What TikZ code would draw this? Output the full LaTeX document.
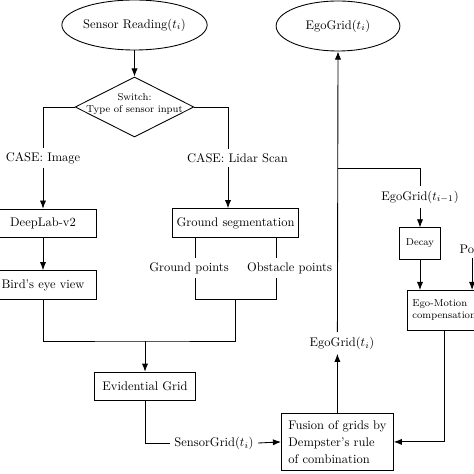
\documentclass[tikz,border=0pt]{standalone}
\usetikzlibrary{calc,shapes.geometric,arrows.meta}

\begin{document}
\begin{tikzpicture}[x=0.8pt, y=-0.8pt, line width=0.7pt, >={Latex[length=6.5pt, width=5pt]},
		box/.style={draw, rectangle, minimum height=23pt, inner sep=3.3pt},
		oval/.style={draw, ellipse, minimum width=99pt, minimum height=40pt, inner sep=0pt},
		lbl/.style={fill=white, inner sep=3.3pt}]
			%%%%% START %%%%%
			\useasboundingbox (0, 0) rectangle (474, 474);
			\clip (0, 0) rectangle (474, 474);
			
			\node[oval] (reading) at (134.5, 25) {Sensor Reading($t_i$)};
			\node[oval] (egogrid) at (338, 26) {EgoGrid($t_i$)};
			
			\node[draw, diamond, minimum width=95pt, minimum height=48pt, inner sep=0pt] (switch) at (134.5, 107) {};
			\node[font=\footnotesize, align=center, inner sep=0pt] (switchtxt) at (134.5, 104) {Switch:\\Type of sensor input};
			\draw[->] (reading) -- (switch);
			
			\node (caseimg) at (43, 158) {CASE: Image};
			\node (caselidar) at (237.5, 158) {CASE: Lidar Scan};
			\coordinate (lidarx) at (228, 158);
			\draw (switch.west) -| (caseimg.north);
			\draw (switch.east) -| (caselidar.north -| lidarx);
			
			\node[box, minimum width=85pt] (deeplab) at (43, 223.5) {DeepLab-v2};
			\node[box, minimum width=85pt] (birds) at (43, 285) {Bird's eye view};
			\node[box] (gseg) at (235.5, 223) {Ground segmentation};
			\draw[->] (caseimg) -- (deeplab);
			\draw[->] (deeplab) -- (birds);
			\draw[->] (caselidar.south -| lidarx) -- (gseg.north -| lidarx);
			
			\coordinate (gleft) at (195, 299);
			\coordinate (gright) at (276, 299);
			\coordinate (gmid) at ($(gleft)!0.5!(gright)$);
			\coordinate (join) at (145, 341);
			\draw (gseg.south -| gleft) -- (gleft) -- (gright) -- (gseg.south -| gright);
			\draw (gmid) |- (join) -| (birds.south);
			\node[lbl] (gpts) at (189, 268) {Ground points};
			\node[lbl] (opts) at (289.5, 268) {Obstacle points};
			
			\node[box, minimum width=81pt] (evid) at (145, 386.5) {Evidential Grid};
			\draw[->] (join) -- (evid);
			
			\node[box, anchor=north west, align=left, inner sep=5.6pt] (fusion) at (281, 413) {Fusion of grids by\\[1.6pt]Dempster's rule\\[1.6pt]of combination};
			\node (sgrid) at (214, 443) {SensorGrid($t_i$)};
			\draw (evid.south) |- (sgrid.west);
			\draw[->] (sgrid.east) -- (fusion.west);
			
			\node (egonow) at (342, 343) {EgoGrid($t_i$)};
			\draw[->] (fusion.north) -- (fusion.north |- egonow.south);
			\draw[->] (fusion.north |- egonow.north) -- (egogrid.south);
			
			\coordinate (branch) at (338, 168);
			\node (egoprev) at (420, 197) {EgoGrid($t_{i-1}$)};
			\node[box, font=\footnotesize, inner xsep=5pt, minimum height=25pt] (decay) at (420, 243.5) {Decay};
			\node[anchor=west] (pose) at (455, 249) {Pose};
			\node[box, anchor=north west, align=left, font=\footnotesize, inner xsep=4pt, minimum height=32pt] (egomotion) at (407, 290) {Ego-Motion\\compensation};
			\draw (branch) -| (egoprev.north);
			\draw[->] (egoprev) -- (decay);
			\draw[->] (decay.south) -- (decay.south |- egomotion.north);
			\draw[->] (pose.south) -- (pose.south |- egomotion.north);
			\draw[->] (egomotion.south) |- (fusion.east);
			
			%%%%% END %%%%%
\end{tikzpicture}
\end{document}
